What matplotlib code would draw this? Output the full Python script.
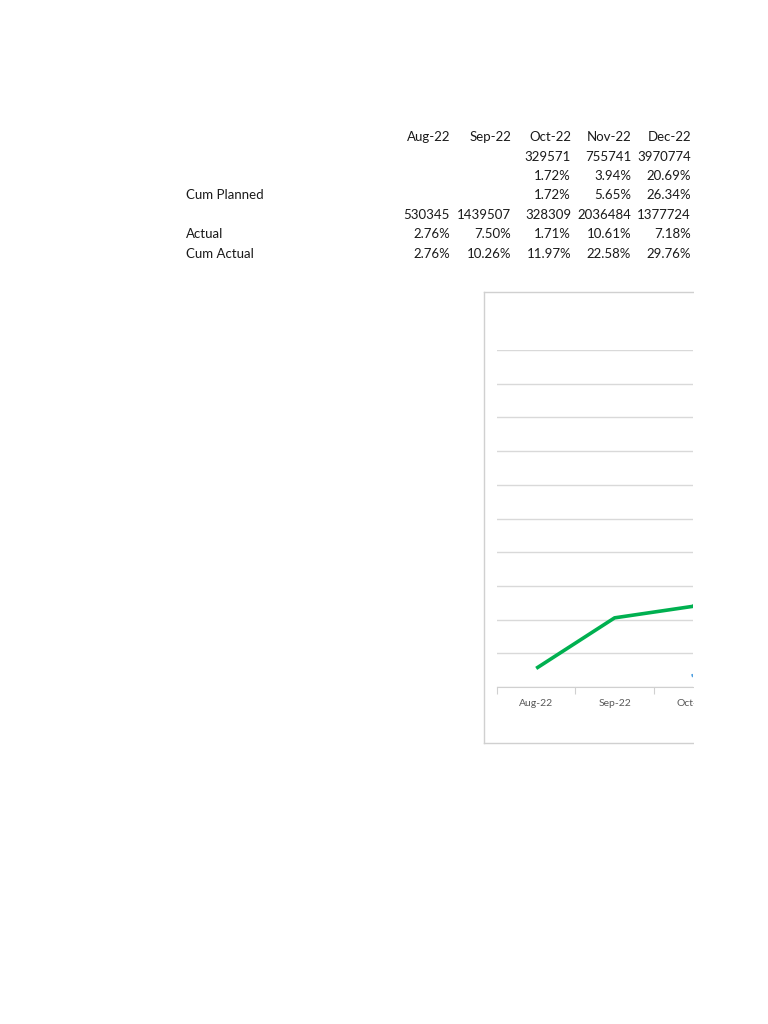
import matplotlib.pyplot as plt
from matplotlib.lines import Line2D
from matplotlib.patches import Rectangle
import numpy as np

plt.rcParams['font.family'] = ['Lato', 'DejaVu Sans']

months = ['Aug-22', 'Sep-22', 'Oct-22', 'Nov-22', 'Dec-22']
planned = [None, None, 329571, 755741, 3970774]
planned_pct = [None, None, 1.72, 3.94, 20.69]
cum_planned = [None, None, 1.72, 5.65, 26.34]
actual = [530345, 1439507, 328309, 2036484, 1377724]
actual_pct = [2.76, 7.50, 1.71, 10.61, 7.18]
cum_actual = [2.76, 10.26, 11.97, 22.58, 29.76]

W, H = 768, 1024
fig = plt.figure(figsize=(7.68, 10.24), dpi=100)

def fx(px):
    return px / W

def fy(py):
    return 1 - py / H

# table part
col_right = [450, 511, 571, 631, 691]
row_y = [137, 157, 176, 195, 215, 234, 254]
tsize = 9.5

def pct(v):
    return '' if v is None else f'{v:.2f}%'

def num(v):
    return '' if v is None else str(v)

rows = [
    ('', months),
    ('', [num(v) for v in planned]),
    ('', [pct(v) for v in planned_pct]),
    ('Cum Planned', [pct(v) for v in cum_planned]),
    ('', [num(v) for v in actual]),
    ('Actual', [pct(v) for v in actual_pct]),
    ('Cum Actual', [pct(v) for v in cum_actual]),
]
for (label, cells), y in zip(rows, row_y):
    if label:
        fig.text(fx(186), fy(y), label, ha='left', va='center', fontsize=tsize, color='#1a1a1a')
    for c, xr in zip(cells, col_right):
        if c:
            fig.text(fx(xr), fy(y), c, ha='right', va='center', fontsize=tsize, color='#1a1a1a')

# chart border (cut off on the right)
edge = '#d0d0d0'
left, right, top, bottom = 484, 693, 292, 743
for xs, ys in [((left, right), (top, top)), ((left, right), (bottom, bottom)), ((left, left), (top, bottom))]:
    fig.add_artist(Line2D([fx(x) for x in xs], [fy(y) for y in ys], color=edge, lw=1))

# plot area
ax = fig.add_axes([fx(497), fy(687), fx(693 - 497), (687 - 350) / H])
x = np.arange(len(months))
ax.set_yticks(np.arange(0, 55, 5))
ax.yaxis.grid(True, color='#d9d9d9', lw=1)
ax.set_axisbelow(True)
ax.tick_params(axis='y', left=False, labelleft=False)
for s in ['top', 'right', 'left']:
    ax.spines[s].set_visible(False)
ax.spines['bottom'].set_color('#d0d0d0')

ax.set_xticks(x - 0.5, minor=False)
ax.set_xticklabels([])
ax.set_xticks(x, minor=True)
ax.set_xticklabels(months, minor=True)
ax.tick_params(axis='x', which='major', length=5, color='#d0d0d0')
ax.tick_params(axis='x', which='minor', length=0, labelsize=7.5, labelcolor='#595959', pad=9)

cp_x = [i for i, v in enumerate(cum_planned) if v is not None]
cp_y = [v for v in cum_planned if v is not None]
ax.plot(cp_x, cp_y, color='#4f9fe0', lw=2.2)
ax.plot(x, cum_actual, color='#00b050', lw=2.6, solid_capstyle='butt')

# the chart is cut off right at the Oct-22 category
ax.set_xlim(-0.5, 2.0)
ax.set_ylim(0, 50)

# page is cropped at the right of the chart
fig.add_artist(Rectangle((fx(694), fy(760)), fx(768 - 694), (760 - 280) / H,
                         facecolor='white', edgecolor='none', zorder=10))

fig.savefig('out.png', dpi=100)
